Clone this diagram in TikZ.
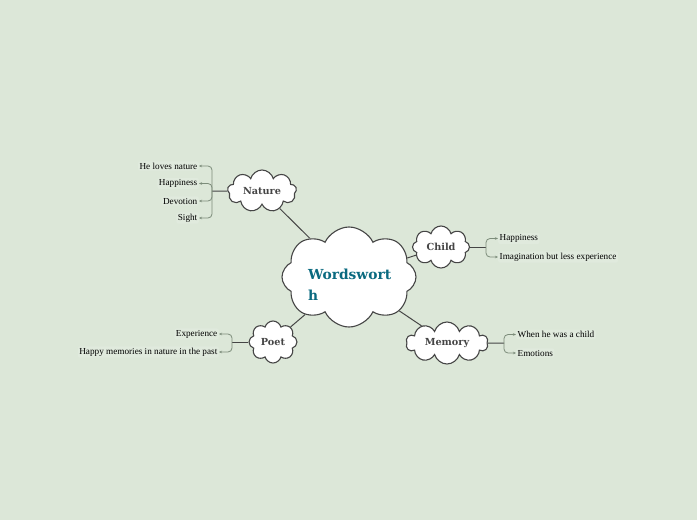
\documentclass[tikz,border=0pt]{standalone}
\usepackage{fontspec}
\setmainfont{Liberation Serif}
\newfontfamily\slabfont{DejaVu Serif}
\usetikzlibrary{shapes.symbols,arrows.meta}
\definecolor{bg}{HTML}{DCE7D8}
\definecolor{edge}{HTML}{454545}
\definecolor{teal}{HTML}{0A6A80}
\definecolor{brk}{HTML}{7C8C7A}
\definecolor{leafbg}{HTML}{E0EADD}
\tikzset{
  cloudbox/.style={cloud, cloud ignores aspect, draw=edge, line width=1.1pt, fill=white, inner sep=0pt, font=\slabfont\bfseries\fontsize{9.7}{11}\selectfont, text=edge},
  mainlink/.style={draw=edge, line width=1pt},
  brlink/.style={draw=brk, line width=0.8pt, rounded corners=4pt, -{Stealth[length=3pt,width=2.5pt]}},
  leafL/.style={anchor=east, font=\fontsize{9.2}{10}\selectfont, fill=leafbg, rounded corners=2pt, inner sep=1.5pt},
  leafR/.style={anchor=west, font=\fontsize{9.2}{10}\selectfont, fill=leafbg, rounded corners=2pt, inner sep=1.5pt},
}
\begin{document}
\begin{tikzpicture}[x=1pt,y=-1pt]
\fill[bg] (0,0) rectangle (697,520);
\useasboundingbox (0,0) rectangle (697,520);

% central
\node[cloudbox, cloud puffs=8, cloud puff arc=130, minimum width=134pt, minimum height=100pt] (c) at (349,277) {};
\node[font=\slabfont\bfseries\fontsize{13.8}{21}\selectfont, text=teal, align=left, anchor=north west, inner sep=0pt] (ct) at (308,268.5) {Wordswort\\h};

% sub clouds
\node[cloudbox, cloud puffs=9, minimum width=69pt, minimum height=42pt] (nat) at (262,191) {Nature};
\node[cloudbox, cloud puffs=8, minimum width=57pt, minimum height=42pt] (chi) at (441,247) {Child};
\node[cloudbox, cloud puffs=8, minimum width=48pt, minimum height=42pt] (poe) at (273,342) {Poet};
\node[cloudbox, cloud puffs=10, minimum width=82pt, minimum height=42pt] (mem) at (447,343) {Memory};

\draw[mainlink] (c) -- (nat);
\draw[mainlink] (c) -- (chi);
\draw[mainlink] (c) -- (poe);
\draw[mainlink] (c) -- (mem);

% Nature leaves
\coordinate (nj) at (212,191);
\draw[mainlink] (nat.west) -- (nj);
\node[leafL] (n1) at (199,166) {He loves nature};
\node[leafL] (n2) at (199,183.5) {Happiness};
\node[leafL] (n3) at (199,201) {Devotion};
\node[leafL] (n4) at (199,218) {Sight};
\foreach \n in {n1,n2,n3,n4} \draw[brlink] (nj) -- (nj |- \n) -- (\n.east);

% Child leaves
\coordinate (cj) at (486,247);
\draw[mainlink] (chi.east) -- (cj);
\node[leafR] (c1) at (498,238.5) {Happiness};
\node[leafR] (c2) at (498,257) {Imagination but less experience};
\foreach \n in {c1,c2} \draw[brlink] (cj) -- (cj |- \n) -- (\n.west);

% Poet leaves
\coordinate (pj) at (232,342);
\draw[mainlink] (poe.west) -- (pj);
\node[leafL] (p1) at (219,334) {Experience};
\node[leafL] (p2) at (219,352) {Happy memories in nature in the past};
\foreach \n in {p1,p2} \draw[brlink] (pj) -- (pj |- \n) -- (\n.east);

% Memory leaves
\coordinate (mj) at (504,343);
\draw[mainlink] (mem.east) -- (mj);
\node[leafR] (m1) at (516,334.5) {When he was a child};
\node[leafR] (m2) at (516,353) {Emotions};
\foreach \n in {m1,m2} \draw[brlink] (mj) -- (mj |- \n) -- (\n.west);
\end{tikzpicture}
\end{document}
